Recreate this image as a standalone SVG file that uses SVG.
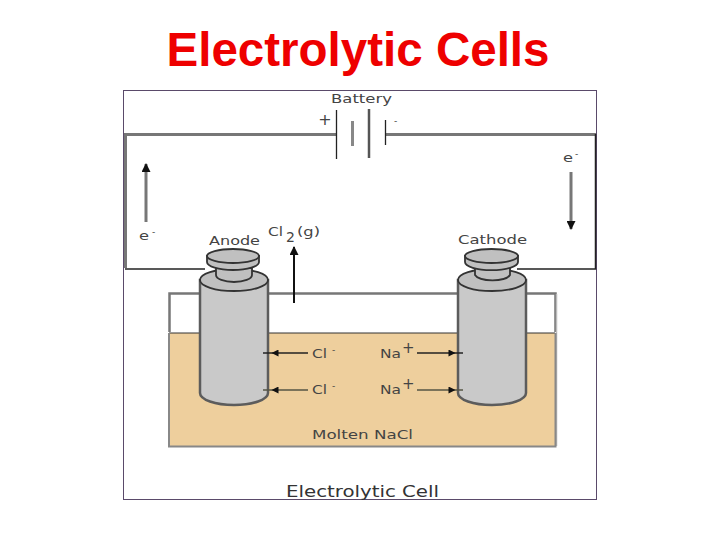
<svg xmlns="http://www.w3.org/2000/svg" width="720" height="540" viewBox="0 0 720 540">
<defs>
<marker id="ah" viewBox="0 0 10 10" refX="5" refY="5" markerWidth="8" markerHeight="7" markerUnits="userSpaceOnUse" orient="auto"><path d="M0 0L10 5L0 10Z" fill="#111"/></marker>
<marker id="av" viewBox="0 0 10 10" refX="9" refY="5" markerWidth="10" markerHeight="9" markerUnits="userSpaceOnUse" orient="auto"><path d="M0 0L10 5L0 10Z" fill="#111"/></marker>
</defs>
<style>
text{font-family:"DejaVu Sans",sans-serif;fill:#444}
.w{fill:none;stroke:#777;stroke-width:3}
.t{fill:none;stroke:#222;stroke-width:1.500}
.body{fill:#c9c9c9;stroke:#5c5c5c;stroke-width:2.500}
.cap{fill:#c0c0c0;stroke:#333;stroke-width:1.800}
.s{font-size:13px}
.u{font-size:9px}
.p{font-size:15px}
</style>
<rect width="720" height="540" fill="#fff"/>
<text x="358" y="66" text-anchor="middle" textLength="383" lengthAdjust="spacingAndGlyphs" style="font-family:'Liberation Sans',sans-serif;font-size:48px;font-weight:700;fill:#ee0000">Electrolytic Cells</text>
<rect x="123.500" y="90.500" width="473" height="409" fill="#fff" stroke="#5a4a6a" stroke-width="1"/>
<g id="bath">
<rect x="169" y="333" width="386" height="113" fill="#eecf9d"/>
<path d="M169.500 332V293.500H555.500V332" class="w" style="stroke-width:2.500"/>
<path d="M556.500 294V446" fill="none" stroke="#bbb" stroke-width="1.500"/>
<path d="M169 333H555" fill="none" stroke="#333" stroke-width="1"/>
<path d="M169 333V446.500H555.500V333" fill="none" stroke="#888" stroke-width="2"/>
</g>
<g id="connectors">
<path d="M336 134.500H125.500V268" class="w"/>
<path d="M125 269H205" class="t"/>
<path d="M385 134.500H596" class="w"/>
<path d="M595.500 134V269H517" class="t"/>
<path d="M146 222V164" class="w" marker-end="url(#av)"/>
<path d="M571 172V229" class="w" marker-end="url(#av)"/>
<path d="M294 303V247" fill="none" stroke="#111" stroke-width="2" marker-end="url(#av)"/>
</g>
<g id="battery">
<path d="M336.500 110V159M385.500 120V145" stroke="#222" stroke-width="1.300"/>
<path d="M352.500 121V146" stroke="#888" stroke-width="3"/>
<path d="M369 109V158" stroke="#555" stroke-width="2.500"/>
<text x="331" y="103" textLength="61" lengthAdjust="spacingAndGlyphs" class="s">Battery</text>
<text x="325" y="125" text-anchor="middle" style="font-size:16px">+</text>
<text x="395.500" y="124" text-anchor="middle" class="u">-</text>
</g>
<g id="anode">
<path d="M200 280V393A34 12 0 0 0 268 393V280Z" class="body"/>
<ellipse cx="234" cy="280" rx="34" ry="11" class="cap"/>
<path d="M216 268V275A18 7 0 0 0 252 275V268Z" class="cap"/>
<path d="M207 256V262A26 8 0 0 0 259 262V256Z" class="cap"/>
<ellipse cx="233" cy="256" rx="26" ry="7" class="cap"/>
</g>
<g id="cathode">
<path d="M458 280V393A34 12 0 0 0 526 393V280Z" class="body"/>
<ellipse cx="492" cy="280" rx="34" ry="11" class="cap"/>
<path d="M475 268V275A18 7 0 0 0 510 275V268Z" class="cap"/>
<path d="M465 256V262A26 8 0 0 0 518 262V256Z" class="cap"/>
<ellipse cx="491.500" cy="256" rx="26.500" ry="7" class="cap"/>
</g>
<g id="ion-arrows">
<path d="M308 353L275 353L263 353" class="t" marker-mid="url(#ah)"/>
<path d="M308 390L275 390L263 390" class="t" marker-mid="url(#ah)" style="stroke:#554"/>
<path d="M417 353L452 353L463 353" class="t" marker-mid="url(#ah)"/>
<path d="M417 390L452 390L463 390" class="t" marker-mid="url(#ah)" style="stroke:#554"/>
</g>
<g id="labels">
<text x="209" y="245" textLength="51" lengthAdjust="spacingAndGlyphs" class="s">Anode</text>
<text x="458" y="244" textLength="69" lengthAdjust="spacingAndGlyphs" class="s">Cathode</text>
<text x="268" y="236" textLength="15" lengthAdjust="spacingAndGlyphs" class="s">Cl</text><text x="286" y="242" style="font-size:14px">2</text><text x="297" y="236" textLength="23" lengthAdjust="spacingAndGlyphs" class="s">(g)</text>
<text x="139" y="240" textLength="10" lengthAdjust="spacingAndGlyphs" class="s">e</text><text x="152" y="235" class="u">-</text>
<text x="563" y="162" textLength="10" lengthAdjust="spacingAndGlyphs" class="s">e</text><text x="575" y="157" class="u">-</text>
<text x="312" y="358" textLength="15" lengthAdjust="spacingAndGlyphs" class="s">Cl</text><text x="332" y="353" class="u">-</text>
<text x="312" y="394" textLength="15" lengthAdjust="spacingAndGlyphs" class="s">Cl</text><text x="332" y="389" class="u">-</text>
<text x="380" y="358" textLength="21" lengthAdjust="spacingAndGlyphs" class="s">Na</text><text x="402" y="353" class="p">+</text>
<text x="380" y="394" textLength="21" lengthAdjust="spacingAndGlyphs" class="s">Na</text><text x="402" y="389" class="p">+</text>
<text x="312" y="439" textLength="101" lengthAdjust="spacingAndGlyphs" class="s">Molten NaCl</text>
<text x="286" y="497" textLength="153" lengthAdjust="spacingAndGlyphs" style="font-size:16px;fill:#333">Electrolytic Cell</text>
</g>
</svg>
